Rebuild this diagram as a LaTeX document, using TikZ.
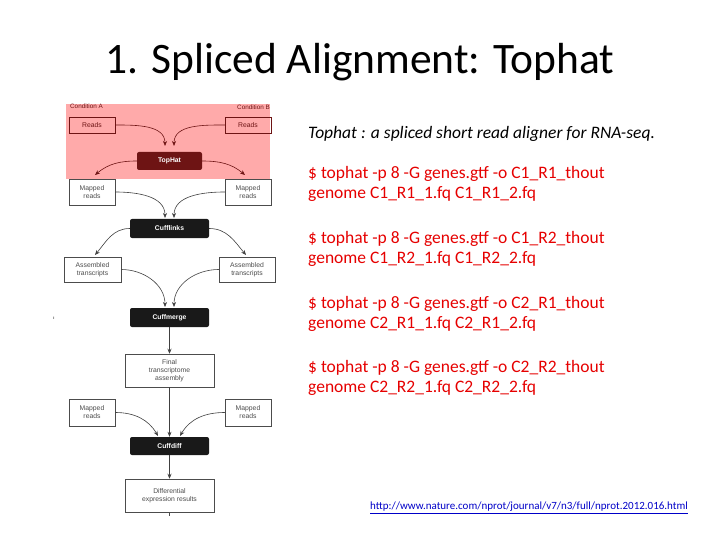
\documentclass[tikz,border=0pt]{standalone}
\usepackage{fontspec}
\setmainfont{Carlito}
\newfontfamily\dfont{Liberation Sans}
\usetikzlibrary{arrows.meta}
\definecolor{pinkbg}{RGB}{255,170,170}
\definecolor{thred}{RGB}{110,20,20}
\definecolor{redtxt}{RGB}{230,0,0}
\definecolor{urlblue}{RGB}{0,0,200}
\begin{document}
\begin{tikzpicture}[x=1pt,y=-1pt,
  box/.style={draw=black!70,line width=0.5pt,fill=white,align=center,font=\dfont\fontsize{6.8}{8}\selectfont,text=black!70,inner sep=0pt},
  tool/.style={rounded corners=2pt,fill=black!90,text=white,font=\dfont\bfseries\fontsize{6.8}{8}\selectfont,inner sep=0pt},
  arr/.style={-{Stealth[length=5pt,width=4pt]},line width=0.6pt,black!75},
  red/.style={anchor=north west,text=redtxt,font=\fontsize{17.5}{20}\selectfont,align=left,inner sep=0pt}]
\useasboundingbox (0,0) rectangle (720,540);
\fill[white] (0,0) rectangle (720,540);
\node (title) at (360,62) {\fontsize{43.5}{50}\selectfont 1. Spliced Alignment: Tophat};
\fill[pinkbg] (66,104) rectangle (270,179);
\node[anchor=north west,inner sep=0pt,font=\dfont\fontsize{6.3}{7}\selectfont,text=thred] (ca) at (70,103.5) {Condition A};
\node[anchor=north east,inner sep=0pt,font=\dfont\fontsize{6.3}{7}\selectfont,text=thred] (cb) at (270,105) {Condition B};
\node[box,minimum width=46,minimum height=16,fill=none,draw=thred,text=thred] (ra) at (92,125) {Reads};
\node[box,minimum width=46,minimum height=16,fill=none,draw=thred,text=thred] (rb) at (248,125) {Reads};
\node[tool,fill=thred,minimum width=65,minimum height=18] (th) at (169.5,161) {TopHat};
\node[box,minimum width=46,minimum height=26] (ma) at (92,192) {Mapped\\reads};
\node[box,minimum width=46,minimum height=26] (mb) at (248,192) {Mapped\\reads};
\node[tool,minimum width=79,minimum height=19] (cl) at (169.5,228.5) {Cufflinks};
\node[box,minimum width=57,minimum height=25] (aa) at (92.5,269.5) {Assembled\\transcripts};
\node[box,minimum width=56,minimum height=25] (ab) at (247,269.5) {Assembled\\transcripts};
\node[tool,minimum width=79,minimum height=19] (cm) at (169.5,317.5) {Cuffmerge};
\node[box,minimum width=89,minimum height=33] (fa) at (169.5,370.5) {Final\\transcriptome\\assembly};
\node[box,minimum width=46,minimum height=27] (m2a) at (92,412.5) {Mapped\\reads};
\node[box,minimum width=46,minimum height=27] (m2b) at (248,412.5) {Mapped\\reads};
\node[tool,minimum width=79,minimum height=18] (cd) at (169.5,446) {Cuffdiff};
\node[box,minimum width=89,minimum height=33] (de) at (169.5,495.5) {Differential\\expression results};
\coordinate (tail) at (169.5,516);
\draw[black!70,line width=0.5pt] (de.south) -- (tail);
\node[inner sep=0pt,font=\fontsize{5}{5}\selectfont] (dot) at (54,318) {ı};
\draw[arr,thred] (ra.east) to[out=0,in=90] (165,146);
\draw[arr,thred] (rb.west) to[out=180,in=90] (174,146);
\draw[arr,thred] (th.west) to[out=180,in=40] (95,175);
\draw[arr,thred] (th.east) to[out=0,in=140] (245,175);
\draw[arr] (ma.east) to[out=0,in=90] (165,218);
\draw[arr] (mb.west) to[out=180,in=90] (174,218);
\draw[arr] (cl.west) to[out=180,in=50] (95,255);
\draw[arr] (cl.east) to[out=0,in=130] (246,255);
\draw[arr] (aa.east) to[out=0,in=90] (165,307);
\draw[arr] (ab.west) to[out=180,in=90] (174,307);
\draw[arr] (cm) -- (fa);
\draw[arr] (fa) -- (cd);
\draw[arr] (m2a.east) to[out=0,in=120] (158,436);
\draw[arr] (m2b.west) to[out=180,in=60] (180,436);
\draw[arr] (cd) -- (de);
\node[anchor=north west,inner sep=0pt,font=\itshape\fontsize{17.5}{20}\selectfont] (desc) at (308,126) {Tophat : a spliced short read aligner for RNA-seq.};
\node[red] (c1) at (308,166) {\$ tophat -p 8 -G genes.gtf -o C1\_R1\_thout\\genome C1\_R1\_1.fq C1\_R1\_2.fq};
\node[red] (c2) at (308,231) {\$ tophat -p 8 -G genes.gtf -o C1\_R2\_thout\\genome C1\_R2\_1.fq C1\_R2\_2.fq};
\node[red] (c3) at (308,296) {\$ tophat -p 8 -G genes.gtf -o C2\_R1\_thout\\genome C2\_R1\_1.fq C2\_R1\_2.fq};
\node[red] (c4) at (308,360) {\$ tophat -p 8 -G genes.gtf -o C2\_R2\_thout\\genome C2\_R2\_1.fq C2\_R2\_2.fq};
\node[anchor=west,inner sep=0pt,text=urlblue,font=\fontsize{11}{12}\selectfont] (url) at (370,508) {\underline{http://www.nature.com/nprot/journal/v7/n3/full/nprot.2012.016.html}};
\end{tikzpicture}
\end{document}
